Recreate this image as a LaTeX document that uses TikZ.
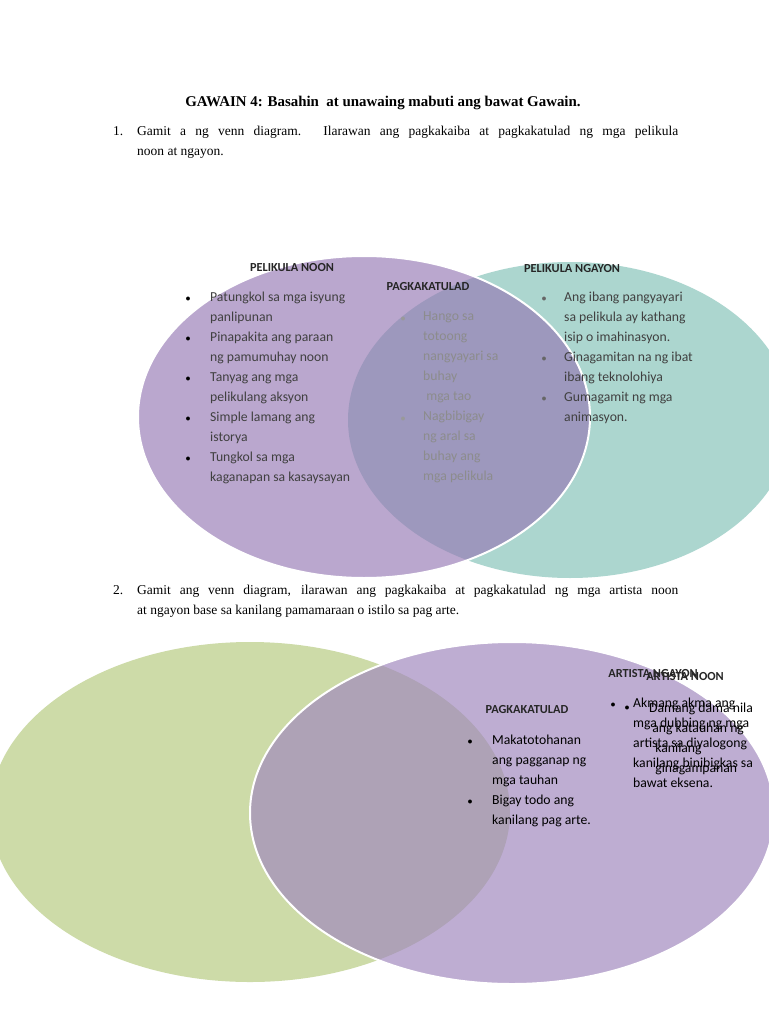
\documentclass[tikz,border=0pt]{standalone}
\usepackage{fontspec}
\setmainfont{Liberation Serif}
\newfontfamily\calfont{Carlito}
\begin{document}
\begin{tikzpicture}[x=1pt,y=-1pt,
  body/.style={font=\fontsize{13.5}{20}\selectfont,align=justify,anchor=north west,inner sep=0},
  vt/.style={font=\calfont\fontsize{13.7}{20}\selectfont,align=left,anchor=north west,inner sep=0,text=black!75},
  vh/.style={font=\calfont\bfseries\fontsize{12.3}{14}\selectfont,inner sep=0,text=black!85},
  bl/.style={font=\fontsize{10}{10}\selectfont,inner sep=0}]
\useasboundingbox (0,0) rectangle (768,1024);
\fill[white] (0,0) rectangle (768,1024);
\node[inner sep=0,font=\bfseries\fontsize{14.9}{17}\selectfont] (title) at (383,103) {GAWAIN 4: Basahin\ \ at unawaing mabuti ang bawat Gawain.};
\node[body,anchor=north west] (n1) at (113,126) {1.};
\node[body,text width=541] (p1) at (137,126) {Gamit a ng venn diagram. Ilarawan ang pagkakaiba at pagkakatulad ng mga pelikula\linebreak noon at ngayon.};
% top venn
\fill[fill={rgb,255:red,172;green,214;blue,207}] (570,420) ellipse [x radius=222,y radius=158];
\fill[fill={rgb,255:red,150;green,120;blue,180},fill opacity=0.65,draw=white,line width=2pt,draw opacity=1] (364,417) ellipse [x radius=226,y radius=161];
\node[vh] (h1) at (292,268) {PELIKULA NOON};
\node[vh] (h2) at (428,287) {PAGKAKATULAD};
\node[vh] (h3) at (572,269) {PELIKULA NGAYON};
\node[vt] (l1) at (210,292) {Patungkol sa mga isyung\\panlipunan\\Pinapakita ang paraan\\ng pamumuhay noon\\Tanyag ang mga\\pelikulang aksyon\\Simple lamang ang\\istorya\\Tungkol sa mga\\kaganapan sa kasaysayan};
\foreach \y in {299,339,379,419,459} \node[bl] at (188,\y) {$\bullet$};
\node[vt,text=black!45] (m1) at (423,312) {Hango sa\\totoong\\nangyayari sa\\buhay\\\ mga tao\\Nagbibigay\\ng aral sa\\buhay ang\\mga pelikula};
\foreach \y in {319,419} \node[bl,text=black!40] at (403,\y) {$\bullet$};
\node[vt] (r1) at (564,292) {Ang ibang pangyayari\\sa pelikula ay kathang\\isip o imahinasyon.\\Ginagamitan na ng ibat\\ibang teknolohiya\\Gumagamit ng mga\\animasyon.};
\foreach \y in {299,359,399} \node[bl,text=black!60] at (544,\y) {$\bullet$};
% item 2
\node[body] (n2) at (113,585) {2.};
\node[body,text width=541] (p2) at (137,585) {Gamit ang venn diagram, ilarawan ang pagkakaiba at pagkakatulad ng mga artista noon\linebreak at ngayon base sa kanilang pamamaraan o istilo sa pag arte.};
% bottom venn
\fill[fill={rgb,255:red,205;green,219;blue,168}] (250,812) ellipse [x radius=260,y radius=170];
\fill[fill={rgb,255:red,160;green,135;blue,190},fill opacity=0.68,draw=white,line width=2pt,draw opacity=1] (512,813) ellipse [x radius=262,y radius=171];
\node[vh] (h4) at (527,710) {PAGKAKATULAD};
\node[vh] (h5) at (653,674) {ARTISTA NGAYON};
\node[vh] (h6) at (685,677) {ARTISTA NOON};
\node[vt,text=black] (c1) at (492,735) {Makatotohanan\\ang pagganap ng\\mga tauhan\\Bigay todo ang\\kanilang pag arte.};
\foreach \y in {742,802} \node[bl] at (470,\y) {$\bullet$};
\node[vt,text=black] (a1) at (633,698) {Akmang akma ang\\mga dubbing ng mga\\artista sa diyalogong\\kanilang binibigkas sa\\bawat eksena.};
\node[vt,text=black] (a2) at (649,703) {Damang dama nila\\\ ang katauhan ng\\\ \ kanilang\\\ \ ginagampanan};
\node[bl] at (613,705) {$\bullet$};
\node[bl] at (627,708) {$\bullet$};
\end{tikzpicture}
\end{document}
